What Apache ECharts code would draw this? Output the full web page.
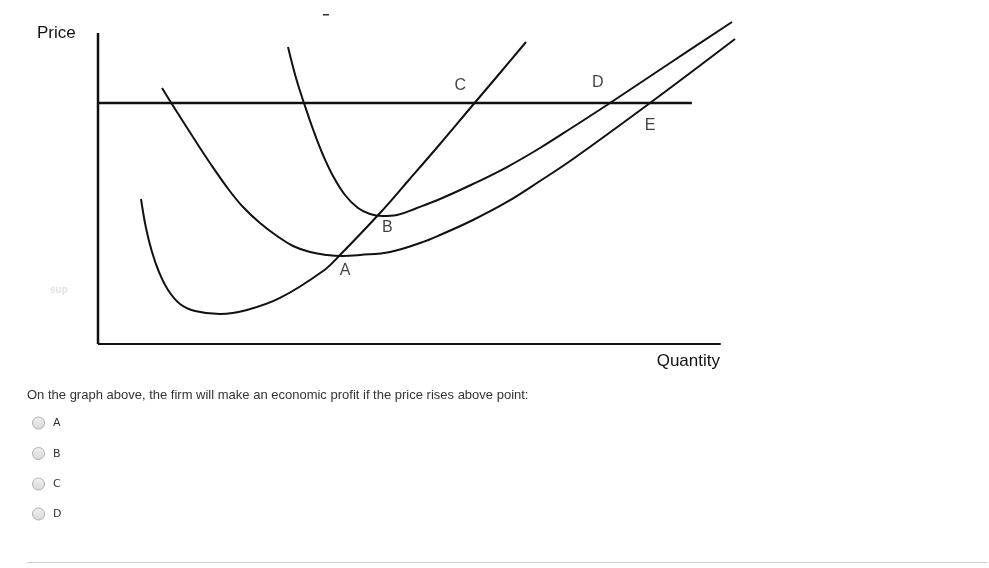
<!DOCTYPE html>
<html>
<head>
<meta charset="utf-8">
<script src="https://cdn.jsdelivr.net/npm/echarts/dist/echarts.min.js"></script>
<style>
html,body{margin:0;padding:0;background:#fff;}
#chart{width:989px;height:568px;}
</style>
</head>
<body>
<div id="chart"></div>
<script>
// Marginal cost curve (Quantity, Price)
var mcCurve = [[6.72,45.31],[7.5,36.25],[8.44,28.75],[9.53,22.5],[10.94,16.88],[12.81,12.5],[15.16,10.31],[19.06,9.38],[23.28,10.63],[28.44,14.38],[35.16,22.81],[37.81,27.81],[44.06,40.94],[48.44,50.94],[53.44,62.5],[58.44,74.38],[62.81,84.69],[66.88,94.38]];
// Average variable cost curve
var avcCurve = [[10.0,80.0],[12.34,72.5],[14.84,64.69],[17.5,56.56],[20.47,48.13],[22.66,42.81],[25.31,37.81],[27.97,33.75],[30.47,30.63],[33.13,28.75],[35.78,27.81],[38.13,27.5],[40.94,27.81],[45.63,28.75],[50.31,31.56],[53.44,34.06],[58.59,38.75],[63.91,44.38],[69.06,50.94],[74.22,57.81],[86.25,75.31],[99.53,95.31]];
// Average total cost curve
var atcCurve = [[29.69,92.81],[30.94,83.13],[32.34,74.38],[33.75,66.25],[35.16,59.06],[36.72,52.5],[38.59,46.56],[40.63,42.5],[42.5,40.63],[44.38,40.0],[46.72,40.31],[49.84,42.5],[53.44,45.31],[58.59,50.0],[63.91,55.31],[69.06,61.25],[74.22,67.81],[79.53,74.69],[89.38,87.81],[99.06,100.63]];
// Horizontal price line
var priceLevel = 75.3;
var priceLineEnd = 92.8;
// Axes extents
var yAxisTop = 97.2;
var xAxisEnd = 97.3;
// Point labels
var pointNames = ['A','B','C','D','E'];
var pointPos = [[38.6,22.8],[45.2,36.25],[56.6,80.9],[78.1,81.6],[86.25,68.4]];
// Question and options
var questionText = 'On the graph above, the firm will make an economic profit if the price rises above point:';
var optionLabels = ['A','B','C','D'];

var chart = echarts.init(document.getElementById('chart'));

var lineBase = {type:'line', showSymbol:false, symbol:'none', clip:false, silent:true, smooth:0.4, lineStyle:{color:'#111', width:2}};

var labelData = pointNames.map(function(n,i){return {name:n, value:pointPos[i]};});

var graphics = [
  {type:'text', left:37, top:25, style:{text:'Price', font:'17px "Liberation Sans", Arial, sans-serif', fill:'#111'}},
  {type:'text', right:269, top:353, style:{text:'Quantity', font:'17px "Liberation Sans", Arial, sans-serif', fill:'#111'}},
  {type:'rect', shape:{x:323, y:14, width:6, height:1.5}, style:{fill:'#333'}},
  {type:'text', left:50, top:285, style:{text:'sup', font:'bold 10px "Liberation Sans", Arial, sans-serif', fill:'#e2e2e2'}},
  {type:'text', left:27, top:389, style:{text:questionText, font:'13px "Liberation Sans", Arial, sans-serif', fill:'#333'}},
  {type:'line', shape:{x1:27, y1:562.5, x2:987, y2:562.5}, style:{stroke:'#d0d0d0', lineWidth:1}}
];
var optY = [423, 453.5, 484, 514];
optionLabels.forEach(function(l,i){
  graphics.push({type:'circle', shape:{cx:38.5, cy:optY[i], r:6}, style:{fill:new echarts.graphic.LinearGradient(0,0,0,1,[{offset:0,color:'#f2f2f2'},{offset:1,color:'#d8d8d8'}]), stroke:'#b0b0b0', lineWidth:1}});
  graphics.push({type:'text', x:53, y:optY[i]+0.5, style:{text:l, font:'11px "DejaVu Sans", sans-serif', fill:'#333', verticalAlign:'middle'}});
});

chart.setOption({
  animation:false,
  backgroundColor:'#fff',
  grid:{left:98, top:8, width:640, height:336, containLabel:false},
  xAxis:{type:'value', min:0, max:100, show:false},
  yAxis:{type:'value', min:0, max:105, show:false},
  graphic:graphics,
  series:[
    {type:'line', name:'yAxisLine', showSymbol:false, symbol:'none', clip:false, silent:true, data:[[0,0],[0,yAxisTop]], lineStyle:{color:'#111', width:2.5}},
    {type:'line', name:'xAxisLine', showSymbol:false, symbol:'none', clip:false, silent:true, data:[[0,0],[xAxisEnd,0]], lineStyle:{color:'#111', width:2}},
    {type:'line', name:'Price', showSymbol:false, symbol:'none', clip:false, silent:true, data:[[0,priceLevel],[priceLineEnd,priceLevel]], lineStyle:{color:'#111', width:2.5}},
    Object.assign({name:'MC', data:mcCurve}, lineBase),
    Object.assign({name:'AVC', data:avcCurve}, lineBase),
    Object.assign({name:'ATC', data:atcCurve}, lineBase),
    {type:'scatter', name:'points', symbolSize:1, itemStyle:{color:'rgba(0,0,0,0)'}, silent:true, clip:false, data:labelData,
     label:{show:true, position:'inside', formatter:'{b}', color:'#111', fontSize:16, fontFamily:'"Liberation Sans", Arial, sans-serif'}}
  ]
});
</script>
</body>
</html>
